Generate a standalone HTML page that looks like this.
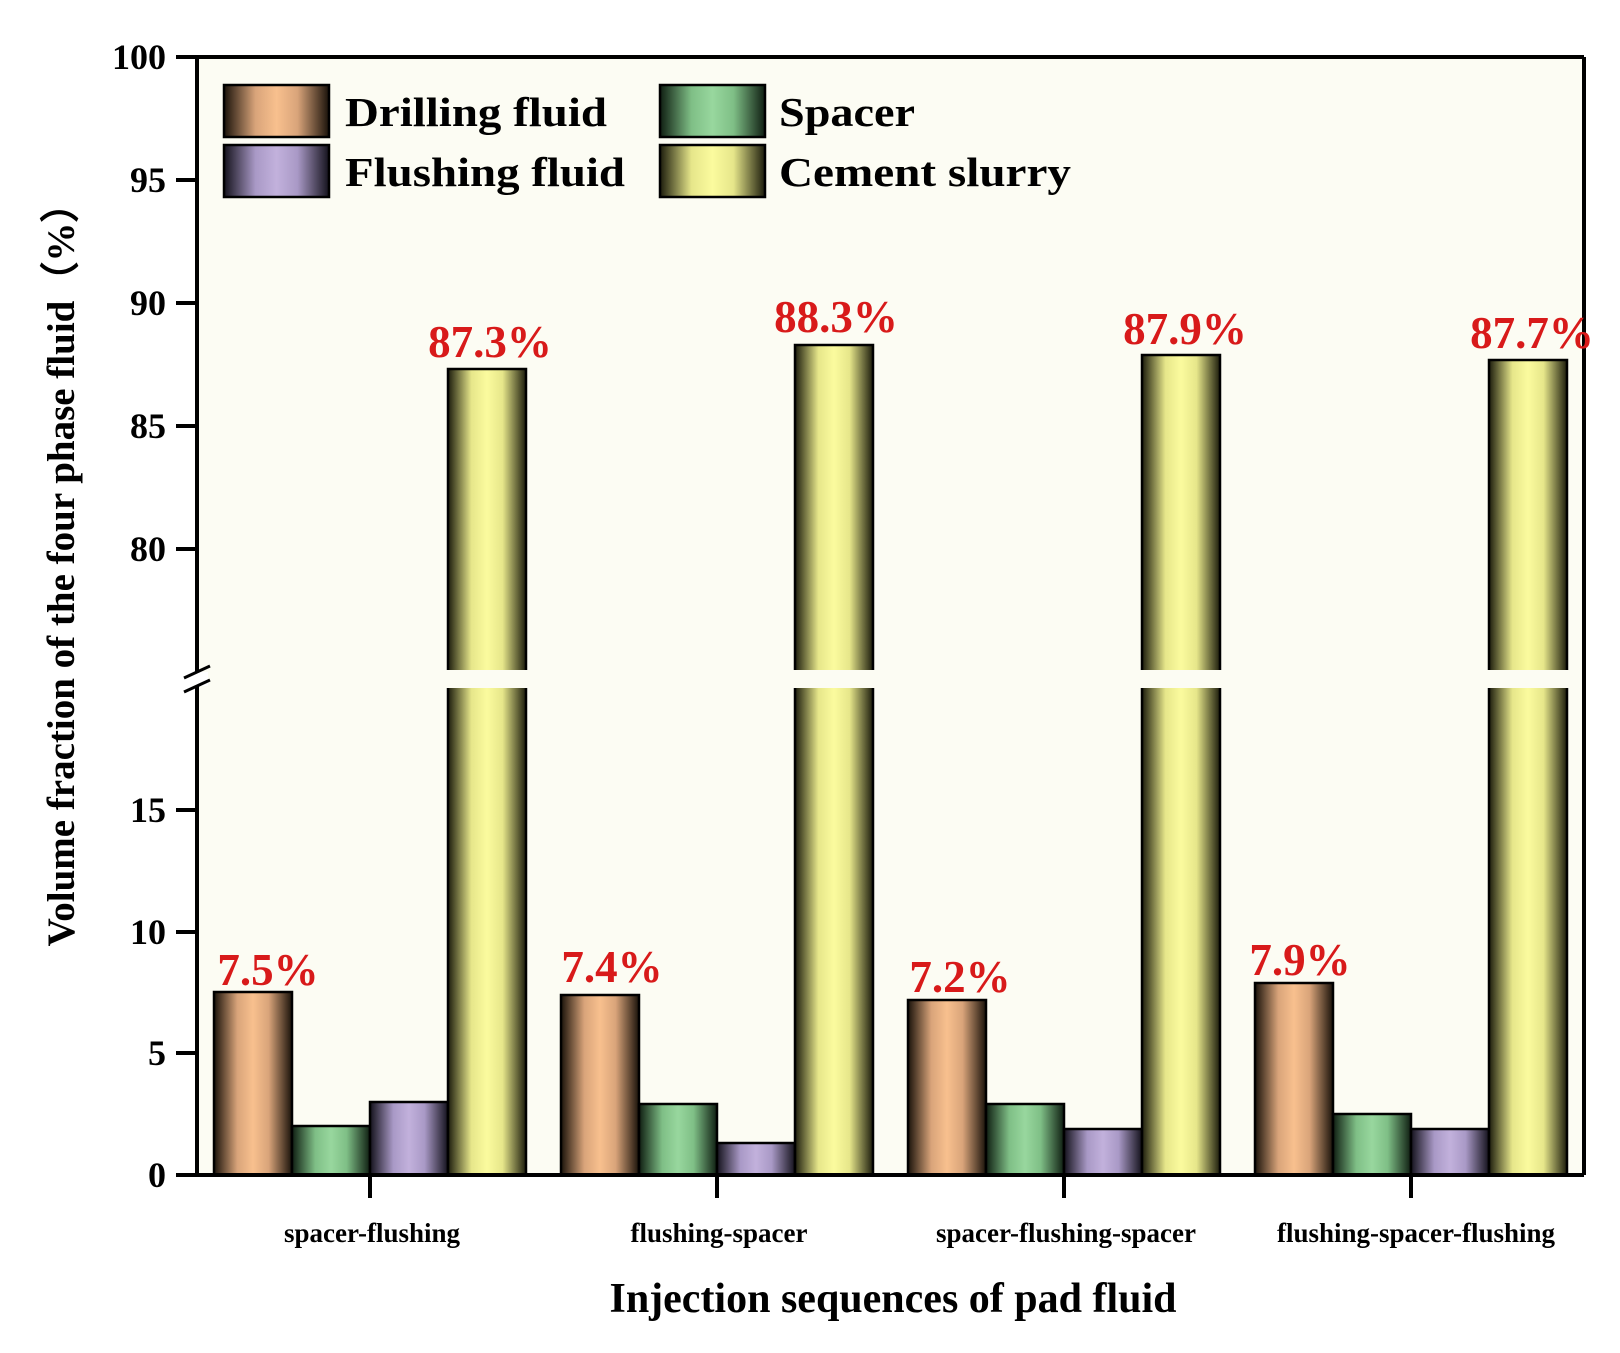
<!DOCTYPE html>
<html><head><meta charset="utf-8"><style>
html,body{margin:0;padding:0;background:#fff;}
svg{display:block;}
text{font-family:"Liberation Serif",serif;font-weight:bold;}
</style></head><body>
<svg width="1620" height="1353" viewBox="0 0 1620 1353" xmlns="http://www.w3.org/2000/svg">
<defs>
<linearGradient id="gO" x1="0" x2="1" y1="0" y2="0"><stop offset="0" stop-color="#1a120a"/><stop offset="0.3" stop-color="#d9a47a"/><stop offset="0.5" stop-color="#f8c08e"/><stop offset="0.7" stop-color="#d9a47a"/><stop offset="1" stop-color="#1a120a"/></linearGradient>
<linearGradient id="gG" x1="0" x2="1" y1="0" y2="0"><stop offset="0" stop-color="#0f1e12"/><stop offset="0.3" stop-color="#7fbf86"/><stop offset="0.5" stop-color="#98d79e"/><stop offset="0.7" stop-color="#7fbf86"/><stop offset="1" stop-color="#0f1e12"/></linearGradient>
<linearGradient id="gP" x1="0" x2="1" y1="0" y2="0"><stop offset="0" stop-color="#14121c"/><stop offset="0.3" stop-color="#a999c6"/><stop offset="0.5" stop-color="#c2b1dc"/><stop offset="0.7" stop-color="#a999c6"/><stop offset="1" stop-color="#14121c"/></linearGradient>
<linearGradient id="gY" x1="0" x2="1" y1="0" y2="0"><stop offset="0" stop-color="#1c1c0c"/><stop offset="0.3" stop-color="#e6e68a"/><stop offset="0.5" stop-color="#fbfb9e"/><stop offset="0.7" stop-color="#e6e68a"/><stop offset="1" stop-color="#1c1c0c"/></linearGradient>
</defs>
<rect x="197" y="57" width="1387" height="1118" fill="#fcfcf3"/>
<g stroke="#000" stroke-width="2.5">
<rect x="214" y="992" width="78" height="183" fill="url(#gO)"/>
<rect x="292" y="1126" width="78" height="49" fill="url(#gG)"/>
<rect x="370" y="1102" width="78" height="73" fill="url(#gP)"/>
<rect x="561" y="995" width="78" height="180" fill="url(#gO)"/>
<rect x="639" y="1104" width="78" height="71" fill="url(#gG)"/>
<rect x="717" y="1143" width="78" height="32" fill="url(#gP)"/>
<rect x="908" y="1000" width="78" height="175" fill="url(#gO)"/>
<rect x="986" y="1104" width="78" height="71" fill="url(#gG)"/>
<rect x="1064" y="1129" width="78" height="46" fill="url(#gP)"/>
<rect x="1255" y="983" width="78" height="192" fill="url(#gO)"/>
<rect x="1333" y="1114" width="78" height="61" fill="url(#gG)"/>
<rect x="1411" y="1129" width="78" height="46" fill="url(#gP)"/>
<rect x="448" y="369" width="78" height="806" fill="url(#gY)"/>
<rect x="795" y="345" width="78" height="830" fill="url(#gY)"/>
<rect x="1142" y="355" width="78" height="820" fill="url(#gY)"/>
<rect x="1489" y="360" width="78" height="815" fill="url(#gY)"/>
</g>
<g fill="#fcfcf3">
<rect x="446" y="670" width="82" height="18"/>
<rect x="793" y="670" width="82" height="18"/>
<rect x="1140" y="670" width="82" height="18"/>
<rect x="1487" y="670" width="82" height="18"/>
</g>
<g stroke="#000" stroke-width="4" fill="none">
<line x1="197" y1="57" x2="1584" y2="57"/>
<line x1="1584" y1="57" x2="1584" y2="1175"/>
<line x1="197" y1="1175" x2="1584" y2="1175"/>
<line x1="197" y1="57" x2="197" y2="672"/>
<line x1="197" y1="686" x2="197" y2="1175"/>
</g>
<rect x="186" y="672" width="22" height="14" fill="#fff"/>
<g stroke="#000" stroke-width="3">
<line x1="184" y1="678" x2="210" y2="666"/>
<line x1="184" y1="692" x2="210" y2="680"/>
</g>
<g stroke="#000" stroke-width="4">
<line x1="176" y1="57" x2="197" y2="57"/>
<line x1="176" y1="180" x2="197" y2="180"/>
<line x1="176" y1="303" x2="197" y2="303"/>
<line x1="176" y1="426" x2="197" y2="426"/>
<line x1="176" y1="549" x2="197" y2="549"/>
<line x1="176" y1="810" x2="197" y2="810"/>
<line x1="176" y1="932" x2="197" y2="932"/>
<line x1="176" y1="1053" x2="197" y2="1053"/>
<line x1="176" y1="1175" x2="197" y2="1175"/>
<line x1="370" y1="1175" x2="370" y2="1198"/>
<line x1="717" y1="1175" x2="717" y2="1198"/>
<line x1="1064" y1="1175" x2="1064" y2="1198"/>
<line x1="1411" y1="1175" x2="1411" y2="1198"/>
</g>
<g font-size="36" text-anchor="end" fill="#000">
<text x="166" y="69">100</text>
<text x="166" y="192">95</text>
<text x="166" y="315">90</text>
<text x="166" y="438">85</text>
<text x="166" y="561">80</text>
<text x="166" y="822">15</text>
<text x="166" y="944">10</text>
<text x="166" y="1065">5</text>
<text x="166" y="1187">0</text>
</g>
<text transform="translate(74,565) rotate(-90)" font-size="39" text-anchor="middle">Volume fraction of the four phase fluid（%）</text>
<g font-size="27" text-anchor="middle">
<text x="372" y="1242">spacer-flushing</text>
<text x="719" y="1242">flushing-spacer</text>
<text x="1066" y="1242">spacer-flushing-spacer</text>
<text x="1416" y="1242">flushing-spacer-flushing</text>
</g>
<text x="893" y="1312" font-size="42" text-anchor="middle">Injection sequences of pad fluid</text>
<g stroke="#000" stroke-width="2.5">
<rect x="224" y="85" width="105" height="52" fill="url(#gO)"/>
<rect x="224" y="145" width="105" height="52" fill="url(#gP)"/>
<rect x="660" y="85" width="105" height="52" fill="url(#gG)"/>
<rect x="660" y="145" width="105" height="52" fill="url(#gY)"/>
</g>
<g font-size="41">
<text x="345" y="126" textLength="262" lengthAdjust="spacingAndGlyphs">Drilling fluid</text>
<text x="345" y="186" textLength="280" lengthAdjust="spacingAndGlyphs">Flushing fluid</text>
<text x="779" y="126" textLength="136" lengthAdjust="spacingAndGlyphs">Spacer</text>
<text x="779" y="186" textLength="292" lengthAdjust="spacingAndGlyphs">Cement slurry</text>
</g>
<g font-size="45" fill="#d81a1a" text-anchor="middle">
<text x="490" y="357">87.3%</text>
<text x="836" y="332">88.3%</text>
<text x="1185" y="344">87.9%</text>
<text x="1532" y="348">87.7%</text>
<text x="268" y="985">7.5%</text>
<text x="612" y="982">7.4%</text>
<text x="960" y="992">7.2%</text>
<text x="1300" y="975">7.9%</text>
</g>
</svg>
</body></html>
